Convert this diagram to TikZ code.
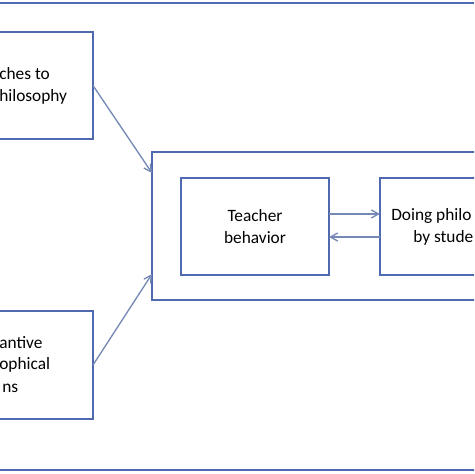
\documentclass[tikz,border=0pt]{standalone}
\usepackage{fontspec}
\setmainfont{Carlito}
\usetikzlibrary{arrows.meta}
\definecolor{boxblue}{RGB}{79,106,175}
\definecolor{arrowblue}{RGB}{118,136,180}

\begin{document}
\begin{tikzpicture}[x=0.75pt,y=-0.75pt]
  \tikzset{BoxStyle/.style = {
    shape         = rectangle,
    draw          = boxblue,
    fill          = white,
    line width    = 1.5pt,
    text          = black,
    inner sep     = 0pt,
    outer sep     = 0pt,
    align         = center,
    font          = \fontsize{13}{16.5}\selectfont
    }
  }
  \tikzset{ArrowStyle/.style = {
    draw          = arrowblue,
    line width    = 1pt,
    -{Straight Barb[length=5.5pt,width=6pt]}
    }
  }
  \tikzset{TextStyle/.style = {
    anchor        = base west,
    inner sep     = 0pt,
    text          = black,
    font          = \fontsize{13}{16.5}\selectfont
    }
  }

	\clip (0,0) rectangle (474,474);
	\fill[white] (0,0) rectangle (474,474);

	\node[BoxStyle, minimum width=400.5pt, minimum height=350.25pt](frame) at (237, 236.5) {};
	\node[BoxStyle, minimum width=114.75pt, minimum height=80.25pt](approach) at (16.5, 85.5) {};
	\node[BoxStyle, minimum width=114.75pt, minimum height=81pt](questions) at (16.5, 365) {};
	\node[BoxStyle, minimum width=336pt, minimum height=111pt](classroom) at (376, 226) {};
	\node[BoxStyle, minimum width=111pt, minimum height=72.75pt](teacher) at (255, 226.5) {Teacher\\behavior};
	\node[BoxStyle, minimum width=111pt, minimum height=72.75pt](doing) at (454, 226.5) {};

	\node[TextStyle](approachA) at (-1, 79.5) {ches to};
	\node[TextStyle](approachB) at (-1, 101.5) {hilosophy};
	\node[TextStyle](questionsA) at (-1, 348.5) {antive};
	\node[TextStyle](questionsB) at (-1, 369.5) {ophical};
	\node[TextStyle](questionsC) at (2, 392.5) {ns};
	\node[TextStyle](doingA) at (391, 220.5) {Doing philo};
	\node[TextStyle](doingB) at (413, 242.5) {by stude};

	\draw[ArrowStyle](approach.east) to ([yshift=39.75pt]classroom.west);
	\draw[ArrowStyle](questions.east) to ([yshift=-36pt]classroom.west);
	\draw[ArrowStyle]([yshift=9.4pt]teacher.east) to ([yshift=9.4pt]doing.west);
	\draw[ArrowStyle]([yshift=-7.9pt]doing.west) to ([yshift=-7.9pt]teacher.east);

  \end{tikzpicture}
\end{document}
